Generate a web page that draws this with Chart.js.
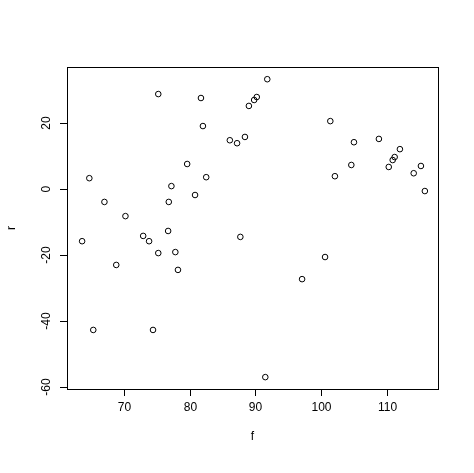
<!DOCTYPE html>
<html>
<head>
<script src="https://cdn.jsdelivr.net/npm/chart.js@4"></script>
<style>body{margin:0;background:#fff}</style>
</head>
<body>
<canvas id="c" width="474" height="473" style="width:474px;height:473px"></canvas>
<script>
const fVals = [63.6,64.7,65.3,67.0,68.8,70.2,72.9,73.8,74.4,75.2,75.2,76.7,76.8,77.2,77.8,78.2,79.6,80.8,81.7,82.0,82.5,86.1,87.2,87.7,88.4,89.0,89.8,90.2,91.5,91.8,97.1,100.6,101.4,102.1,104.6,105.0,108.8,110.3,110.9,111.2,112.0,114.1,115.2,115.8];
const rVals = [-15.8,3.3,-42.7,-3.9,-23,-8.2,-14.2,-15.8,-42.7,-19.4,28.8,-12.7,-3.9,0.9,-19.1,-24.5,7.6,-1.8,27.6,19.1,3.6,14.8,13.9,-14.5,15.8,25.2,27,27.9,-57,33.3,-27.3,-20.6,20.6,3.9,7.3,14.2,15.2,6.7,8.8,9.7,12.1,4.8,7.0,-0.6];
const xTicks = [70,80,90,100,110];
const yTicks = [-60,-40,-20,0,20];

const rAxes = {
  id: 'rAxes',
  afterDraw(chart) {
    const {ctx, chartArea: a, scales: {x, y}} = chart;
    ctx.save();
    ctx.strokeStyle = '#000'; ctx.lineWidth = 1;
    ctx.strokeRect(a.left + 0.5, a.top + 0.5, a.right - a.left, a.bottom - a.top);
    ctx.fillStyle = '#000';
    ctx.font = '12px Arial, "Liberation Sans", sans-serif';
    ctx.beginPath();
    const xl = x.getPixelForValue(xTicks[0]), xr = x.getPixelForValue(xTicks[xTicks.length - 1]);
    ctx.moveTo(xl, a.bottom + 0.5); ctx.lineTo(xr, a.bottom + 0.5);
    ctx.textAlign = 'center'; ctx.textBaseline = 'top';
    xTicks.forEach(v => {
      const px = Math.round(x.getPixelForValue(v)) + 0.5;
      ctx.moveTo(px, a.bottom); ctx.lineTo(px, a.bottom + 7);
      ctx.fillText(String(v), px, a.bottom + 13);
    });
    const yb = y.getPixelForValue(yTicks[0]), yt = y.getPixelForValue(yTicks[yTicks.length - 1]);
    ctx.moveTo(a.left + 0.5, yb); ctx.lineTo(a.left + 0.5, yt);
    yTicks.forEach(v => {
      const py = Math.round(y.getPixelForValue(v)) + 0.5;
      ctx.moveTo(a.left, py); ctx.lineTo(a.left - 7, py);
    });
    ctx.stroke();
    yTicks.forEach(v => {
      const py = y.getPixelForValue(v);
      ctx.save(); ctx.translate(a.left - 14, py); ctx.rotate(-Math.PI / 2);
      ctx.textBaseline = 'bottom'; ctx.fillText(String(v), 0, 0); ctx.restore();
    });
    ctx.fillText('f', (a.left + a.right) / 2, a.bottom + 42);
    ctx.save(); ctx.translate(a.left - 55, (a.top + a.bottom) / 2); ctx.rotate(-Math.PI / 2);
    ctx.textBaseline = 'middle'; ctx.fillText('r', 0, 0); ctx.restore();
    ctx.restore();
  }
};

new Chart(document.getElementById('c'), {
  type: 'scatter',
  data: { datasets: [{
    data: fVals.map((f, i) => ({x: f, y: rVals[i]})),
    pointRadius: 2.8, pointBorderColor: '#000', pointBackgroundColor: 'rgba(0,0,0,0)', pointBorderWidth: 1
  }]},
  options: {
    responsive: false, animation: false, devicePixelRatio: 1,
    layout: { padding: { left: 67, right: 36, top: 67, bottom: 84 } },
    plugins: { legend: { display: false }, tooltip: { enabled: false } },
    scales: {
      x: { type: 'linear', display: false, min: 61.3, max: 117.8 },
      y: { type: 'linear', display: false, min: -60.6, max: 37 }
    }
  },
  plugins: [rAxes]
});
</script>
</body>
</html>
